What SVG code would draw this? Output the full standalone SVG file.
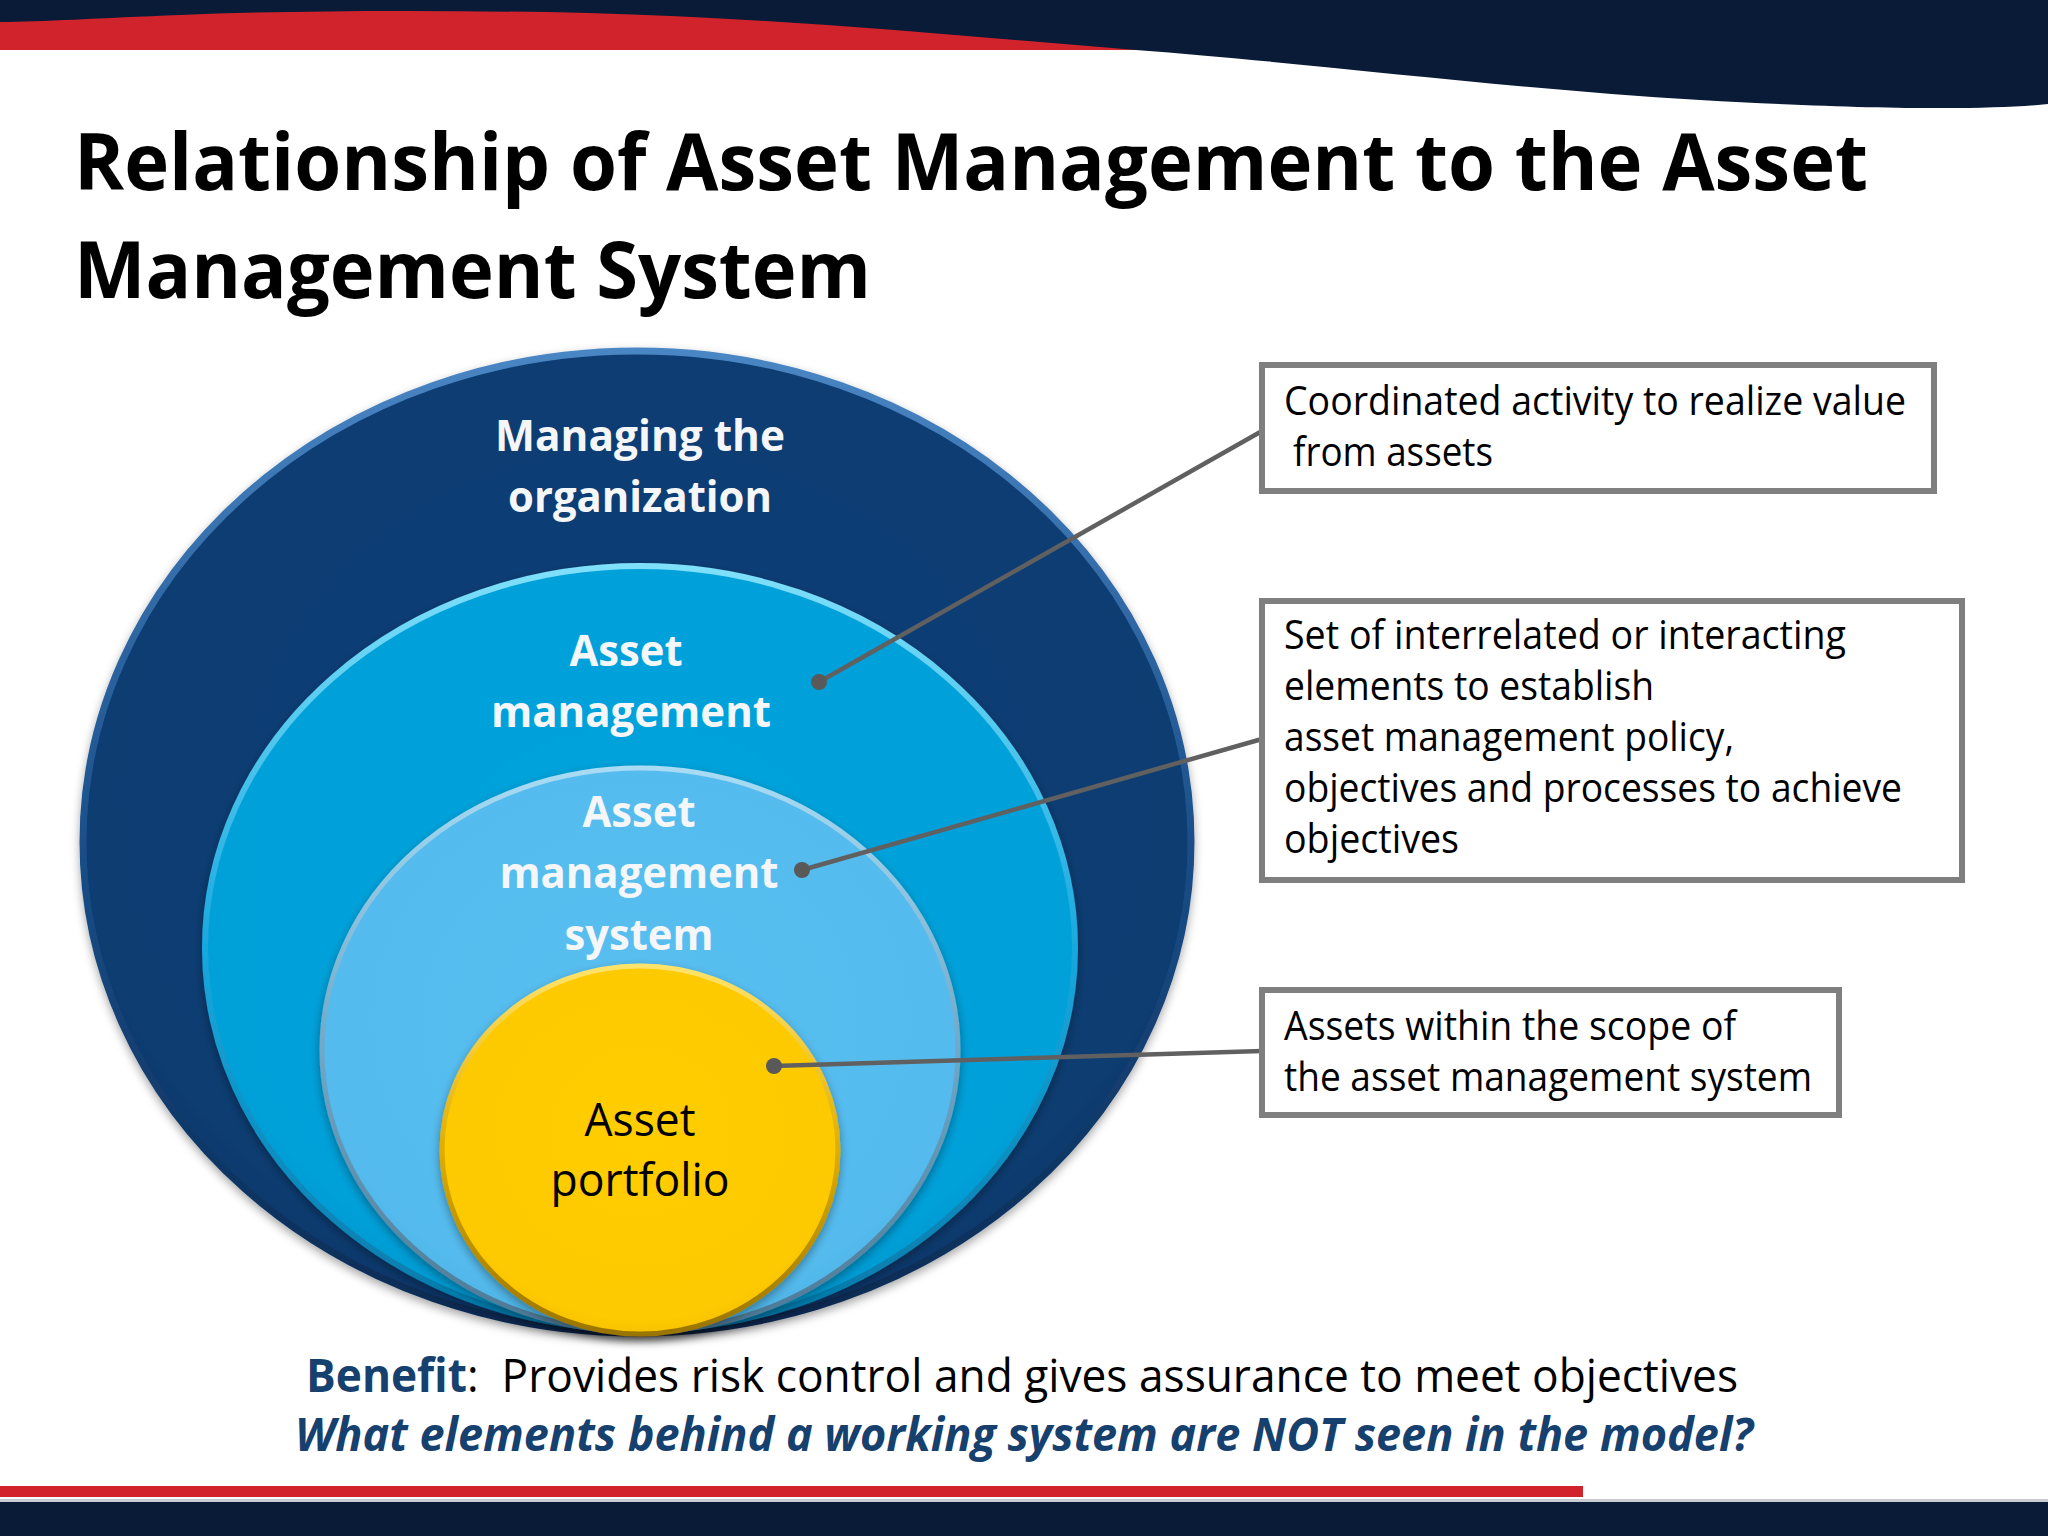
<svg xmlns="http://www.w3.org/2000/svg" width="2048" height="1536" viewBox="0 0 2048 1536">
  <style>
    .title { font-family: "Open Sans", "Liberation Sans", sans-serif; font-weight: bold; font-size: 79px; fill: #000; }
    .ring { font-family: "Open Sans", "Liberation Sans", sans-serif; font-weight: bold; font-size: 43px; fill: #f4f6f8; text-anchor: middle; }
    .core { font-family: "Open Sans", "Liberation Sans", sans-serif; font-size: 45px; fill: #000; text-anchor: middle; }
    .box { fill: #fff; stroke: #7f7f7f; stroke-width: 6; }
    .boxtext { font-family: "Open Sans", "Liberation Sans", sans-serif; font-size: 40px; fill: #000; }
    .conn { stroke: #606060; stroke-width: 4.5; fill: none; }
    .dot { fill: #595959; }
    .benefit { font-family: "Open Sans", "Liberation Sans", sans-serif; font-size: 46px; fill: #000; }
    .question { font-family: "Open Sans", "Liberation Sans", sans-serif; font-size: 46px; font-weight: bold; font-style: italic; fill: #16406e; }
  </style>
  <defs>
    <linearGradient id="rimOuter" x1="0" y1="0" x2="0" y2="1">
      <stop offset="0" stop-color="#4a86c4"/>
      <stop offset="0.5" stop-color="#1a4f8a"/>
      <stop offset="1" stop-color="#0a2a52"/>
    </linearGradient>
    <linearGradient id="rimMid" x1="0" y1="0" x2="0" y2="1">
      <stop offset="0" stop-color="#7fe0fa"/>
      <stop offset="0.5" stop-color="#18a8de"/>
      <stop offset="1" stop-color="#0478a8"/>
    </linearGradient>
    <linearGradient id="rimInner" x1="0" y1="0" x2="0" y2="1">
      <stop offset="0" stop-color="#a9dcf4"/>
      <stop offset="0.5" stop-color="#6fa8c8"/>
      <stop offset="1" stop-color="#4d7894"/>
    </linearGradient>
    <linearGradient id="rimCore" x1="0" y1="0" x2="0" y2="1">
      <stop offset="0" stop-color="#ffe36a"/>
      <stop offset="0.5" stop-color="#e0ad00"/>
      <stop offset="1" stop-color="#9a7400"/>
    </linearGradient>
    <radialGradient id="fillOuter" cx="0.5" cy="0.45" r="0.6">
      <stop offset="0" stop-color="#0f4078"/>
      <stop offset="0.85" stop-color="#0e3c71"/>
      <stop offset="1" stop-color="#0b3363"/>
    </radialGradient>
    <radialGradient id="fillMid" cx="0.5" cy="0.45" r="0.6">
      <stop offset="0" stop-color="#05a3dc"/>
      <stop offset="0.85" stop-color="#03a0d9"/>
      <stop offset="1" stop-color="#0392c8"/>
    </radialGradient>
    <radialGradient id="fillInner" cx="0.5" cy="0.45" r="0.6">
      <stop offset="0" stop-color="#59bff0"/>
      <stop offset="0.85" stop-color="#54bbee"/>
      <stop offset="1" stop-color="#4aaedf"/>
    </radialGradient>
    <radialGradient id="fillCore" cx="0.5" cy="0.45" r="0.6">
      <stop offset="0" stop-color="#ffcd05"/>
      <stop offset="0.85" stop-color="#fdc902"/>
      <stop offset="1" stop-color="#f0bc00"/>
    </radialGradient>
    <filter id="shadow" x="-10%" y="-10%" width="120%" height="120%">
      <feDropShadow dx="0" dy="4" stdDeviation="5" flood-color="#000" flood-opacity="0.35"/>
    </filter>
  </defs>

  <rect width="2048" height="1536" fill="#ffffff"/>

  <!-- top banner -->
  <rect x="0" y="0" width="1150" height="50" fill="#d1232c"/>
  <path d="M0,0 H2048 V104 C1990,110 1880,110 1700,100 C1500,88 1300,62 1136,50 C960,36 780,18 588,13 C450,10 300,10 180,15 C100,18 40,22 0,22 Z" fill="#0a1b37"/>

  <!-- bottom banner -->
  <rect x="0" y="1486" width="1583" height="11" fill="#d1232c"/>
  <rect x="0" y="1499" width="2048" height="3" fill="#c9ccd2"/>
  <rect x="0" y="1502" width="2048" height="34" fill="#0a1b37"/>

  <!-- title -->
  <text class="title" x="74" y="190" textLength="1794" lengthAdjust="spacingAndGlyphs">Relationship of Asset Management to the Asset</text>
  <text class="title" x="74" y="298" textLength="797" lengthAdjust="spacingAndGlyphs">Management System</text>

  <!-- nested ellipses -->
  <g id="managing-organization">
    <ellipse cx="637" cy="842" rx="554" ry="491" fill="url(#fillOuter)" stroke="url(#rimOuter)" stroke-width="7" filter="url(#shadow)"/>
    <text class="ring" x="640" y="451" textLength="290" lengthAdjust="spacingAndGlyphs">Managing the</text>
    <text class="ring" x="640" y="512" textLength="264" lengthAdjust="spacingAndGlyphs">organization</text>
  </g>
  <g id="asset-management">
    <ellipse cx="640" cy="948" rx="435" ry="382" fill="url(#fillMid)" stroke="url(#rimMid)" stroke-width="6" filter="url(#shadow)"/>
    <text class="ring" x="626" y="666" textLength="113" lengthAdjust="spacingAndGlyphs">Asset</text>
    <text class="ring" x="631" y="727" textLength="280" lengthAdjust="spacingAndGlyphs">management</text>
  </g>
  <g id="asset-management-system">
    <ellipse cx="640" cy="1050" rx="318" ry="282" fill="url(#fillInner)" stroke="url(#rimInner)" stroke-width="5" filter="url(#shadow)"/>
    <text class="ring" x="639" y="827" textLength="113" lengthAdjust="spacingAndGlyphs">Asset</text>
    <text class="ring" x="639" y="888" textLength="279" lengthAdjust="spacingAndGlyphs">management</text>
    <text class="ring" x="639" y="950" textLength="149" lengthAdjust="spacingAndGlyphs">system</text>
  </g>
  <g id="asset-portfolio">
    <ellipse cx="640" cy="1150" rx="198" ry="184" fill="url(#fillCore)" stroke="url(#rimCore)" stroke-width="5" filter="url(#shadow)"/>
    <text class="core" x="640" y="1136" textLength="111" lengthAdjust="spacingAndGlyphs">Asset</text>
    <text class="core" x="640" y="1196" textLength="179" lengthAdjust="spacingAndGlyphs">portfolio</text>
  </g>

  <!-- connectors -->
  <g id="connectors">
    <line class="conn" x1="819" y1="682" x2="1262" y2="431"/>
    <circle class="dot" cx="819" cy="682" r="8"/>
    <line class="conn" x1="802" y1="870" x2="1262" y2="739"/>
    <circle class="dot" cx="802" cy="870" r="8"/>
    <line class="conn" x1="774" y1="1066" x2="1262" y2="1051"/>
    <circle class="dot" cx="774" cy="1066" r="8"/>
  </g>

  <!-- callout boxes -->
  <g id="box-asset-management">
    <rect class="box" x="1262" y="365" width="672" height="126"/>
    <text class="boxtext" x="1284" y="415" textLength="622" lengthAdjust="spacingAndGlyphs">Coordinated activity to realize value</text>
    <text class="boxtext" x="1293" y="466" textLength="200" lengthAdjust="spacingAndGlyphs">from assets</text>
  </g>
  <g id="box-asset-management-system">
    <rect class="box" x="1262" y="601" width="700" height="279"/>
    <text class="boxtext" x="1284" y="649" textLength="562" lengthAdjust="spacingAndGlyphs">Set of interrelated or interacting</text>
    <text class="boxtext" x="1284" y="700" textLength="370" lengthAdjust="spacingAndGlyphs">elements to establish</text>
    <text class="boxtext" x="1284" y="751" textLength="450" lengthAdjust="spacingAndGlyphs">asset management policy,</text>
    <text class="boxtext" x="1284" y="802" textLength="618" lengthAdjust="spacingAndGlyphs">objectives and processes to achieve</text>
    <text class="boxtext" x="1284" y="853" textLength="175" lengthAdjust="spacingAndGlyphs">objectives</text>
  </g>
  <g id="box-asset-portfolio">
    <rect class="box" x="1262" y="990" width="577" height="125"/>
    <text class="boxtext" x="1284" y="1040" textLength="452" lengthAdjust="spacingAndGlyphs">Assets within the scope of</text>
    <text class="boxtext" x="1284" y="1091" textLength="528" lengthAdjust="spacingAndGlyphs">the asset management system</text>
  </g>

  <!-- bottom text -->
  <text class="benefit" x="306" y="1392" textLength="1432" lengthAdjust="spacingAndGlyphs" xml:space="preserve"><tspan font-weight="bold" fill="#16406e">Benefit</tspan>:  Provides risk control and gives assurance to meet objectives</text>
  <text class="question" x="295" y="1451" textLength="1458" lengthAdjust="spacingAndGlyphs">What elements behind a working system are NOT seen in the model?</text>
</svg>
